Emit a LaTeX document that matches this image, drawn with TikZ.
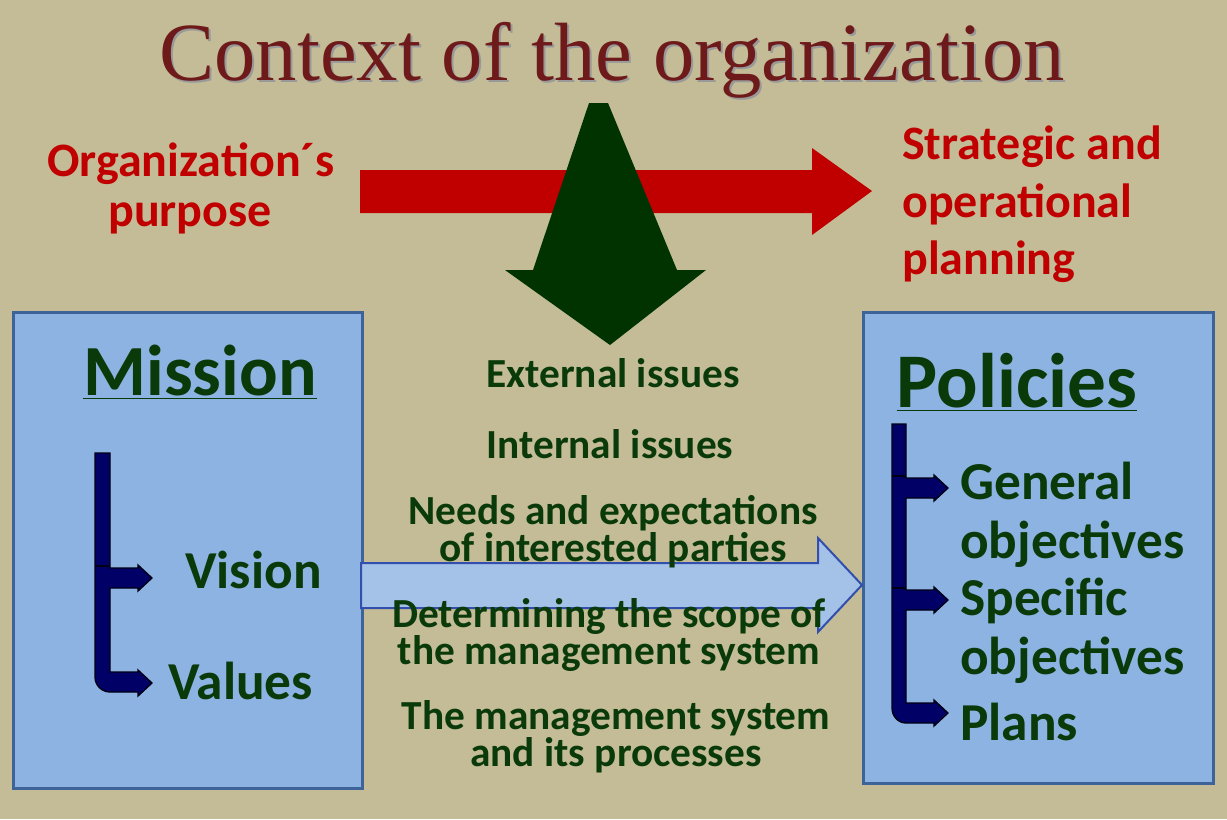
\documentclass[tikz,border=0pt]{standalone}
\usepackage{fontspec}
\setmainfont{Carlito}
\newfontfamily\titlefont{Liberation Serif}
\begin{document}
\begin{tikzpicture}[x=0.75pt,y=-0.75pt,
  gtxt/.style={text=txtgreen,font=\bfseries\fontsize{31}{28}\selectfont,align=center,inner sep=0pt},
  rtxt/.style={text=txtred,font=\bfseries\fontsize{36}{43}\selectfont,align=left,inner sep=0pt},
  bigtxt/.style={text=txtgreen,font=\bfseries\fontsize{40}{44}\selectfont,align=left,inner sep=0pt,anchor=west},
  panel/.style={fill=boxblue,draw=boxedge,line width=2pt},
  bent/.style={fill=navy,draw=black!80!navy,line width=1pt}]
\definecolor{bg}{HTML}{C4BC96}
\definecolor{txtgreen}{HTML}{0A3A0A}
\definecolor{txtred}{HTML}{C00000}
\definecolor{boxblue}{HTML}{8DB3E2}
\definecolor{boxedge}{HTML}{3E6399}
\definecolor{navy}{HTML}{000066}
\definecolor{darkgreen}{HTML}{003300}
\definecolor{titlered}{HTML}{6E1A1A}
\fill[bg] (0,0) rectangle (1227,819);
\useasboundingbox (0,0) rectangle (1227,819);
% title
\node[text=black!40,font=\titlefont\fontsize{62}{64}\selectfont,inner sep=0pt] at (614,62) {Context of the organization};
\node (title)[text=titlered,font=\titlefont\fontsize{62}{64}\selectfont,inner sep=0pt] at (612,60) {Context of the organization};
% red arrow
\fill[txtred] (360,170) -- (812,170) -- (812,148) -- (872,191) -- (812,235) -- (812,213) -- (360,213) -- cycle;
% green arrow
\fill[darkgreen] (589,103) -- (608,103) -- (677,270) -- (706,270) -- (610,345) -- (505,270) -- (533,270) -- cycle;
% red texts
\node (purpose)[rtxt,anchor=north west] at (47,142) {Organization´s};
\node[rtxt,anchor=north west] at (108,203) {purpose};
\node (plan)[rtxt,anchor=north west] at (902,126) {Strategic and\\operational\\planning};
% panels
\node (left)[panel,minimum width=349*0.75pt,minimum height=476*0.75pt,anchor=north west,inner sep=0pt] at (12,311) {};
\node (right)[panel,minimum width=350*0.75pt,minimum height=471*0.75pt,anchor=north west,inner sep=0pt] at (862,311) {};
% middle arrow
\draw[fill=boxblue!80!white,draw=boxedge!80!blue,line width=1.5pt] (361,563) -- (818,563) -- (818,538) -- (862,585) -- (818,632) -- (818,608) -- (361,608) -- cycle;
% middle texts
\node (ext)[gtxt] at (613,373) {External issues};
\node (int)[gtxt] at (610,444) {Internal issues};
\node (needs)[gtxt] at (613,532) {Needs and expectations\\of interested parties};
\node (scope)[gtxt] at (609,635) {Determining the scope of\\the management system};
\node (ms)[gtxt] at (616,737) {The management system\\and its processes};
% Mission
\node (mission)[text=txtgreen,font=\bfseries\fontsize{54}{56}\selectfont,inner sep=0pt] at (200,372) {\underline{Mission}};
\draw[bent] (95,453) -- (110,453) -- (110,568) -- (138,568) -- (138,565) -- (152,578) -- (138,591) -- (138,588) -- (110,588) -- (110,672) -- (138,672) -- (138,670) -- (152,683) -- (138,696) -- (138,692) -- (110,692) to[out=180,in=-90] (95,677) -- cycle;
\draw[black!80!navy,line width=1pt] (95,566) -- (110,566);
\node (vision)[bigtxt] at (185,570) {Vision};
\node (values)[bigtxt] at (168,681) {Values};
% Policies
\node (policies)[text=txtgreen,font=\bfseries\fontsize{58}{60}\selectfont,inner sep=0pt] at (1017,382) {\underline{Policies}};
\draw[bent] (892,424) -- (906,424) -- (906,478) -- (934,478) -- (934,475) -- (948,488) -- (934,501) -- (934,498) -- (906,498) -- (906,590) -- (934,590) -- (934,587) -- (948,600) -- (934,613) -- (934,610) -- (906,610) -- (906,703) -- (934,703) -- (934,700) -- (948,713) -- (934,726) -- (934,723) -- (906,723) to[out=180,in=-90] (892,708) -- cycle;
\draw[black!80!navy,line width=1pt] (892,476) -- (906,476) (892,588) -- (906,588);
\node (gen)[bigtxt] at (960,515) {General\\objectives};
\node (spec)[bigtxt] at (960,631) {Specific\\objectives};
\node (plans)[bigtxt] at (960,722) {Plans};
\end{tikzpicture}
\end{document}
